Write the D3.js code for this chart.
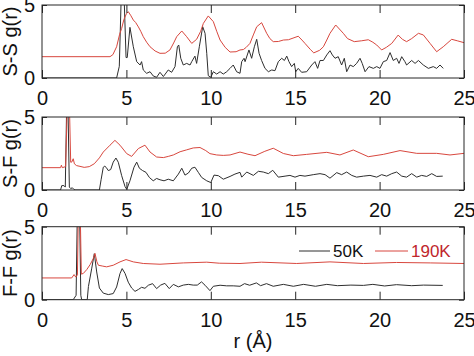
<!DOCTYPE html>
<html><head><meta charset="utf-8">
<script src="https://cdn.jsdelivr.net/npm/d3@7"></script>
<style>body{margin:0;background:#fff}svg{display:block}text{font-family:"Liberation Sans",Arial,Helvetica,sans-serif}</style>
</head><body><svg id="c" width="474" height="356"></svg>
<script>
const xTicks = [0, 5, 10, 15, 20, 25];
const yTicks = [0, 5];
const panelLabels = ["S-S g(r)", "S-F g(r)", "F-F g(r)"];
const seriesNames = ["50K", "190K"];
const xLabel = "r (Å)";

// S-S, 50K : [r, g]
const ss50 = [[0,0],[4.42,0],[4.58,0.8],[4.68,5],[4.78,10],[4.88,5],[4.98,1.4],[5.05,1.4],[5.21,3.47],[5.41,2.14],[5.61,1.12],[5.81,0.89],[5.9,1.12],[6.0,0.55],[6.2,0.32],[6.4,0.43],[6.59,0.14],[6.79,0.05],[6.99,0.39],[7.19,0.1],[7.48,0.55],[7.68,0.39],[7.88,0.78],[8.02,2.14],[8.1,2.26],[8.22,1.35],[8.37,0.89],[8.57,1.0],[8.77,0.89],[8.87,1.12],[9.06,1.5],[9.16,1.0],[9.32,2.14],[9.52,3.51],[9.66,3.06],[9.76,1.69],[9.85,0.16],[10.0,0.05],[10.15,0.43],[10.35,0.27],[10.55,0.43],[10.74,0.27],[10.94,0.43],[11.14,0.66],[11.33,0.89],[11.53,0.43],[11.73,0.32],[11.83,1.12],[11.97,1.35],[12.03,1.12],[12.26,1.92],[12.42,1.35],[12.58,2.14],[12.72,2.65],[12.86,1.69],[13.01,1.2],[13.21,0.66],[13.41,0.43],[13.61,0.55],[13.8,0.5],[14.0,1.12],[14.2,1.35],[14.36,1.2],[14.5,1.5],[14.63,1.12],[14.79,0.78],[14.95,1.0],[15.03,0.43],[15.18,0.66],[15.38,0.39],[15.68,0.43],[15.98,0.89],[16.17,1.12],[16.33,0.66],[16.47,1.2],[16.67,1.2],[16.87,1.58],[17.06,1.87],[17.2,1.58],[17.36,1.35],[17.55,1.46],[17.75,0.89],[17.91,1.35],[18.05,0.43],[18.25,0.89],[18.44,0.78],[18.64,1.0],[18.84,1.35],[18.97,1.0],[19.14,0.43],[19.37,0.78],[19.63,0.66],[19.83,0.78],[20.02,0.66],[20.22,1.12],[20.42,1.2],[20.62,1.74],[20.81,1.2],[21.01,1.35],[21.15,1.0],[21.31,1.46],[21.5,1.12],[21.6,0.89],[21.9,1.2],[22.1,1.0],[22.3,1.2],[22.59,0.89],[22.89,0.66],[23.18,0.78],[23.38,0.66],[23.58,0.89],[23.77,0.66]];
// S-S, 190K
const ss190 = [[0,1.46],[4.03,1.46],[4.2,1.6],[4.42,2.14],[4.6,3.0],[4.72,3.4],[4.85,4.0],[5.0,4.4],[5.11,4.54],[5.25,4.3],[5.41,3.97],[5.55,3.8],[5.71,3.5],[5.85,3.2],[6.0,2.83],[6.2,2.45],[6.4,2.14],[6.7,1.85],[6.99,1.69],[7.3,1.7],[7.58,1.92],[7.8,2.4],[7.98,2.83],[8.28,3.22],[8.57,2.83],[8.87,2.37],[9.16,2.65],[9.4,3.2],[9.56,3.74],[9.85,4.25],[10.15,3.86],[10.35,3.2],[10.55,2.6],[10.85,2.1],[11.14,1.78],[11.5,1.8],[11.73,1.92],[11.93,1.95],[12.1,2.1],[12.32,2.37],[12.52,2.95],[12.72,3.51],[13.01,3.79],[13.31,3.06],[13.5,2.7],[13.7,2.49],[14.0,2.5],[14.3,2.6],[14.6,2.62],[15.18,2.86],[15.4,2.6],[15.58,2.37],[15.9,1.95],[16.1,1.72],[16.45,1.9],[16.67,2.14],[16.87,2.6],[17.06,3.06],[17.4,3.63],[17.85,3.06],[18.1,2.7],[18.5,2.49],[18.94,2.55],[19.33,2.62],[19.6,2.45],[19.83,2.26],[20.12,1.92],[20.4,2.1],[20.72,2.37],[21.1,2.94],[21.35,2.65],[21.6,2.49],[21.9,2.7],[22.3,3.06],[22.59,2.95],[22.99,2.37],[23.38,1.8],[23.77,2.14],[24.27,2.65],[24.6,2.55],[25,2.42]];
// S-F, 50K
const sf50 = [[0,0],[1.1,0],[1.17,0.3],[1.3,0.3],[1.38,0.2],[1.45,5],[1.5,9],[1.55,5],[1.62,0.2],[1.7,0.1],[1.8,0.15],[1.9,0.03],[2.0,0],[3.4,0],[3.5,0.7],[3.63,1.56],[3.72,1.63],[3.8,1.55],[3.93,1.33],[4.07,1.4],[4.22,1.91],[4.38,2.19],[4.52,1.9],[4.72,0.98],[4.92,0.23],[5.02,0.05],[5.21,0.63],[5.45,1.56],[5.61,1.91],[5.77,1.49],[5.96,1.33],[6.16,1.21],[6.36,0.86],[6.59,0.63],[6.79,0.79],[6.99,0.7],[7.23,0.63],[7.48,0.74],[7.78,0.63],[8.08,1.09],[8.28,1.49],[8.47,1.02],[8.67,1.16],[8.87,1.49],[9.06,1.56],[9.26,1.21],[9.46,0.86],[9.76,0.63],[10.0,0.51],[10.19,1.02],[10.45,0.98],[10.74,0.74],[11.14,0.93],[11.43,1.09],[11.73,1.21],[11.83,0.88],[12.13,1.23],[12.52,1.0],[12.82,1.28],[13.11,1.23],[13.41,1.12],[13.67,1.35],[14.0,0.88],[14.4,0.95],[14.69,1.0],[14.99,0.88],[15.28,1.0],[15.58,0.95],[16.07,1.05],[16.47,1.12],[16.77,1.05],[17.06,0.81],[17.46,1.19],[17.75,1.05],[18.05,1.23],[18.35,1.0],[18.64,0.88],[19.04,0.95],[19.43,1.0],[19.83,0.88],[20.12,1.05],[20.42,0.95],[20.72,1.12],[21.01,1.23],[21.31,0.95],[21.6,0.88],[21.9,1.12],[22.2,0.88],[22.49,1.0],[22.79,0.93],[23.09,1.12],[23.38,0.93],[23.74,0.95]];
// S-F, 190K
const sf190 = [[0,1.53],[1.1,1.53],[1.15,1.7],[1.2,1.53],[1.4,1.6],[1.48,5],[1.56,9],[1.64,5],[1.7,1.9],[1.76,1.91],[1.85,2.14],[1.92,1.79],[2.05,1.67],[2.25,1.62],[2.5,1.55],[2.8,1.6],[3.1,1.8],[3.4,2.2],[3.63,2.6],[4.03,3.07],[4.32,3.4],[4.62,3.07],[5.02,2.49],[5.31,2.3],[5.71,2.84],[6.1,3.07],[6.4,2.6],[6.79,2.26],[7.19,2.22],[7.48,2.3],[7.78,2.4],[8.18,2.62],[8.57,2.75],[8.96,2.88],[9.36,2.91],[9.7,2.7],[9.95,2.49],[10.35,2.4],[10.74,2.37],[11.14,2.4],[11.73,2.6],[12.2,2.45],[12.62,2.35],[13.2,2.65],[13.7,2.86],[14.3,2.5],[14.89,2.35],[15.68,2.44],[16.87,2.58],[17.65,2.4],[18.44,2.74],[19.33,2.28],[20.22,2.44],[21.21,2.7],[22.2,2.51],[23.38,2.51],[24.17,2.4],[25,2.51]];
// F-F, 50K
const ff50 = [[0,0],[1.85,0],[2.02,0.3],[2.08,5],[2.16,9],[2.24,5],[2.3,0.3],[2.35,0],[2.68,0],[2.75,0.9],[2.94,2.11],[3.1,3.15],[3.24,1.9],[3.4,0.8],[3.63,0.45],[3.93,0.35],[4.22,0.42],[4.42,0.87],[4.62,1.79],[4.75,2.13],[4.92,1.8],[5.11,1.2],[5.31,0.8],[5.51,0.57],[5.71,0.7],[5.9,0.85],[6.1,0.78],[6.3,0.99],[6.55,1.1],[6.79,0.76],[7.03,1.0],[7.28,1.12],[7.54,0.76],[7.78,1.05],[8.08,0.88],[8.37,1.0],[8.67,1.05],[8.96,1.0],[9.2,1.0],[9.45,1.22],[9.66,0.99],[9.95,0.62],[10.15,0.92],[10.55,0.99],[10.94,0.95],[11.33,0.95],[11.73,0.92],[12.0,1.1],[12.3,0.99],[12.7,1.15],[12.95,0.96],[13.3,1.1],[13.7,0.92],[14.3,1.05],[14.89,0.92],[15.5,1.05],[16.2,0.92],[16.87,1.05],[17.5,0.96],[18.3,1.0],[19.04,0.98],[19.6,1.05],[20.3,0.94],[21.0,1.03],[21.9,0.96],[22.6,1.0],[23.74,0.98]];
// F-F, 190K
const ff190 = [[0,1.49],[1.76,1.49],[1.9,1.72],[2.0,1.55],[2.1,1.7],[2.14,5],[2.21,9],[2.28,5],[2.33,1.75],[2.45,1.8],[2.65,2.06],[2.85,2.4],[3.04,2.82],[3.14,3.17],[3.25,2.6],[3.34,2.36],[3.6,2.3],[3.83,2.25],[4.22,2.36],[4.62,2.59],[4.98,2.75],[5.41,2.59],[6.0,2.48],[6.99,2.43],[8.37,2.52],[9.76,2.57],[10.5,2.5],[11.73,2.48],[13.0,2.57],[15.09,2.48],[17.06,2.59],[19.04,2.48],[21.0,2.55],[23.0,2.52],[25,2.48]];

const panelData = [[ss50, ss190], [sf50, sf190], [ff50, ff190]];
const colors = ["#2e2e2e", "#d8473e"];
const legendText = ["#111", "#c0262c"];

const svg = d3.select("#c");
const L = 42, R = 464, H = 73;
const tops = [5, 117, 226.7];
const x = d3.scaleLinear().domain([0, 25]).range([L, R]);

panelData.forEach((series, i) => {
  const top = tops[i];
  const y = d3.scaleLinear().domain([0, 5]).range([top + H, top]);
  const g = svg.append("g");
  const cid = "clip" + i;
  svg.append("clipPath").attr("id", cid).append("rect")
    .attr("x", L).attr("y", top).attr("width", R - L).attr("height", H);
  const line = d3.line().x(d => x(d[0])).y(d => y(d[1]));
  series.forEach((s, k) => {
    g.append("path").datum(s).attr("d", line).attr("clip-path", `url(#${cid})`)
      .attr("fill", "none").attr("stroke", colors[k]).attr("stroke-width", 1)
      .attr("stroke-linejoin", "round");
  });
  // bottom axis
  const ax = g.append("g").attr("transform", `translate(0,${top + H})`)
    .call(d3.axisBottom(x).tickValues(xTicks).tickSize(-8).tickPadding(12.8).tickFormat(d3.format("d")));
  // top axis
  const axT = g.append("g").attr("transform", `translate(0,${top})`)
    .call(d3.axisTop(x).tickValues(xTicks).tickSize(-8).tickFormat(""));
  // left axis
  const ay = g.append("g").attr("transform", `translate(${L},0)`)
    .call(d3.axisLeft(y).tickValues(yTicks).tickSize(-5).tickPadding(7).tickFormat(d3.format("d")));
  const ayR = g.append("g").attr("transform", `translate(${R},0)`)
    .call(d3.axisRight(y).tickValues(yTicks).tickSize(-5).tickFormat(""));
  [ax, axT, ay, ayR].forEach(a => {
    a.select(".domain").remove();
    a.selectAll("line").attr("stroke", "#262626").attr("stroke-width", 1);
    a.selectAll("text").attr("font-size", 20).attr("fill", "#111")
      .attr("font-family", '"Liberation Sans", Arial, sans-serif');
  });
  g.append("rect").attr("x", L).attr("y", top).attr("width", R - L).attr("height", H)
    .attr("fill", "none").attr("stroke", "#262626").attr("stroke-width", 1);
  g.append("text").attr("transform", `translate(17,${top + H / 2}) rotate(-90)`)
    .attr("text-anchor", "middle").attr("font-size", 20).attr("fill", "#111")
    .text(panelLabels[i]);
});

// legend (in bottom panel)
const legY = 251;
const legItems = [{x0: 299, x1: 330, tx: 333}, {x0: 375, x1: 408, tx: 411}];
legItems.forEach((it, k) => {
  svg.append("line").attr("x1", it.x0).attr("x2", it.x1).attr("y1", legY).attr("y2", legY)
    .attr("stroke", colors[k]).attr("stroke-width", 1);
  svg.append("text").attr("x", it.tx).attr("y", legY + 6).attr("font-size", 17)
    .attr("fill", legendText[k]).text(seriesNames[k]);
});

svg.append("text").attr("x", (L + R) / 2).attr("y", 347.5).attr("text-anchor", "middle")
  .attr("font-size", 20).attr("fill", "#111").text(xLabel);
</script></body></html>
